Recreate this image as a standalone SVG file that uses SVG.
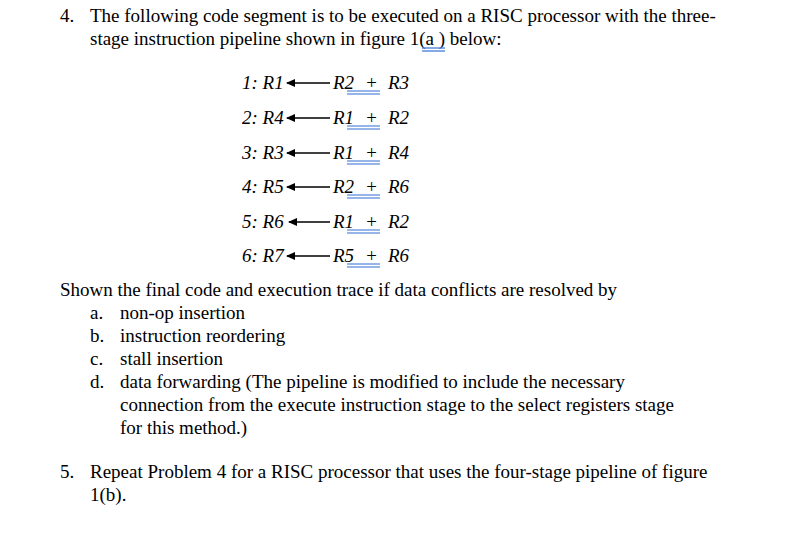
<svg xmlns="http://www.w3.org/2000/svg" width="791" height="542" viewBox="0 0 791 542">
<style>
text{font-family:"Liberation Serif","Times New Roman",serif;font-size:19px;fill:#000}
.c{font-style:italic}
.u{stroke:#2f6fd6;stroke-width:1.2}
.a{stroke:#000;stroke-width:1.5}
</style>
<defs><marker id="ah" markerWidth="9" markerHeight="8" refX="8" refY="4" orient="auto" markerUnits="userSpaceOnUse"><path d="M0,0 L9,4 L0,8 z" fill="#000"/></marker></defs>
<rect width="791" height="542" fill="#fff"/>
<text x="60" y="22">4.</text>
<text x="90" y="22">The following code segment is to be executed on a RISC processor with the three-</text>
<text x="90" y="45">stage instruction pipeline shown in figure 1(a ) below:</text>
<g class="u"><line x1="422" y1="48" x2="445" y2="48"/><line x1="422" y1="51" x2="445" y2="51"/></g>
<g id="code">
<text class="c" x="242" y="89">1: R1</text><text class="c" x="333" y="89">R2</text><text class="c" x="365" y="89">+</text><text class="c" x="388" y="89">R3</text>
<text class="c" x="242" y="124">2: R4</text><text class="c" x="333" y="124">R1</text><text class="c" x="365" y="124">+</text><text class="c" x="388" y="124">R2</text>
<text class="c" x="242" y="159">3: R3</text><text class="c" x="333" y="159">R1</text><text class="c" x="365" y="159">+</text><text class="c" x="388" y="159">R4</text>
<text class="c" x="242" y="193">4: R5</text><text class="c" x="333" y="193">R2</text><text class="c" x="365" y="193">+</text><text class="c" x="388" y="193">R6</text>
<text class="c" x="242" y="228">5: R6</text><text class="c" x="333" y="228">R1</text><text class="c" x="365" y="228">+</text><text class="c" x="388" y="228">R2</text>
<text class="c" x="242" y="262">6: R7</text><text class="c" x="333" y="262">R5</text><text class="c" x="365" y="262">+</text><text class="c" x="388" y="262">R6</text>
</g>
<g id="connectors" class="a">
<line x1="330" y1="83" x2="287" y2="83" marker-end="url(#ah)"/>
<line x1="330" y1="118" x2="287" y2="118" marker-end="url(#ah)"/>
<line x1="330" y1="153" x2="287" y2="153" marker-end="url(#ah)"/>
<line x1="330" y1="187" x2="287" y2="187" marker-end="url(#ah)"/>
<line x1="330" y1="222" x2="289" y2="222" marker-end="url(#ah)"/>
<line x1="330" y1="256" x2="287" y2="256" marker-end="url(#ah)"/>
</g>
<g class="u">
<line x1="347" y1="91" x2="380" y2="91"/><line x1="347" y1="94" x2="380" y2="94"/>
<line x1="347" y1="126" x2="380" y2="126"/><line x1="347" y1="129" x2="380" y2="129"/>
<line x1="347" y1="161" x2="380" y2="161"/><line x1="347" y1="164" x2="380" y2="164"/>
<line x1="347" y1="195" x2="380" y2="195"/><line x1="347" y1="198" x2="380" y2="198"/>
<line x1="347" y1="230" x2="380" y2="230"/><line x1="347" y1="233" x2="380" y2="233"/>
<line x1="347" y1="264" x2="380" y2="264"/><line x1="347" y1="267" x2="380" y2="267"/>
</g>
<text x="60" y="296">Shown the final code and execution trace if data conflicts are resolved by</text>
<text x="90" y="319">a.</text><text x="120" y="319">non-op insertion</text>
<text x="90" y="342">b.</text><text x="120" y="342">instruction reordering</text>
<text x="90" y="365">c.</text><text x="120" y="365">stall insertion</text>
<text x="90" y="388">d.</text><text x="120" y="388">data forwarding (The pipeline is modified to include the necessary</text>
<text x="120" y="411">connection from the execute instruction stage to the select registers stage</text>
<text x="120" y="434">for this method.)</text>
<text x="60" y="478">5.</text>
<text x="90" y="478">Repeat Problem 4 for a RISC processor that uses the four-stage pipeline of figure</text>
<text x="90" y="501">1(b).</text>
</svg>
